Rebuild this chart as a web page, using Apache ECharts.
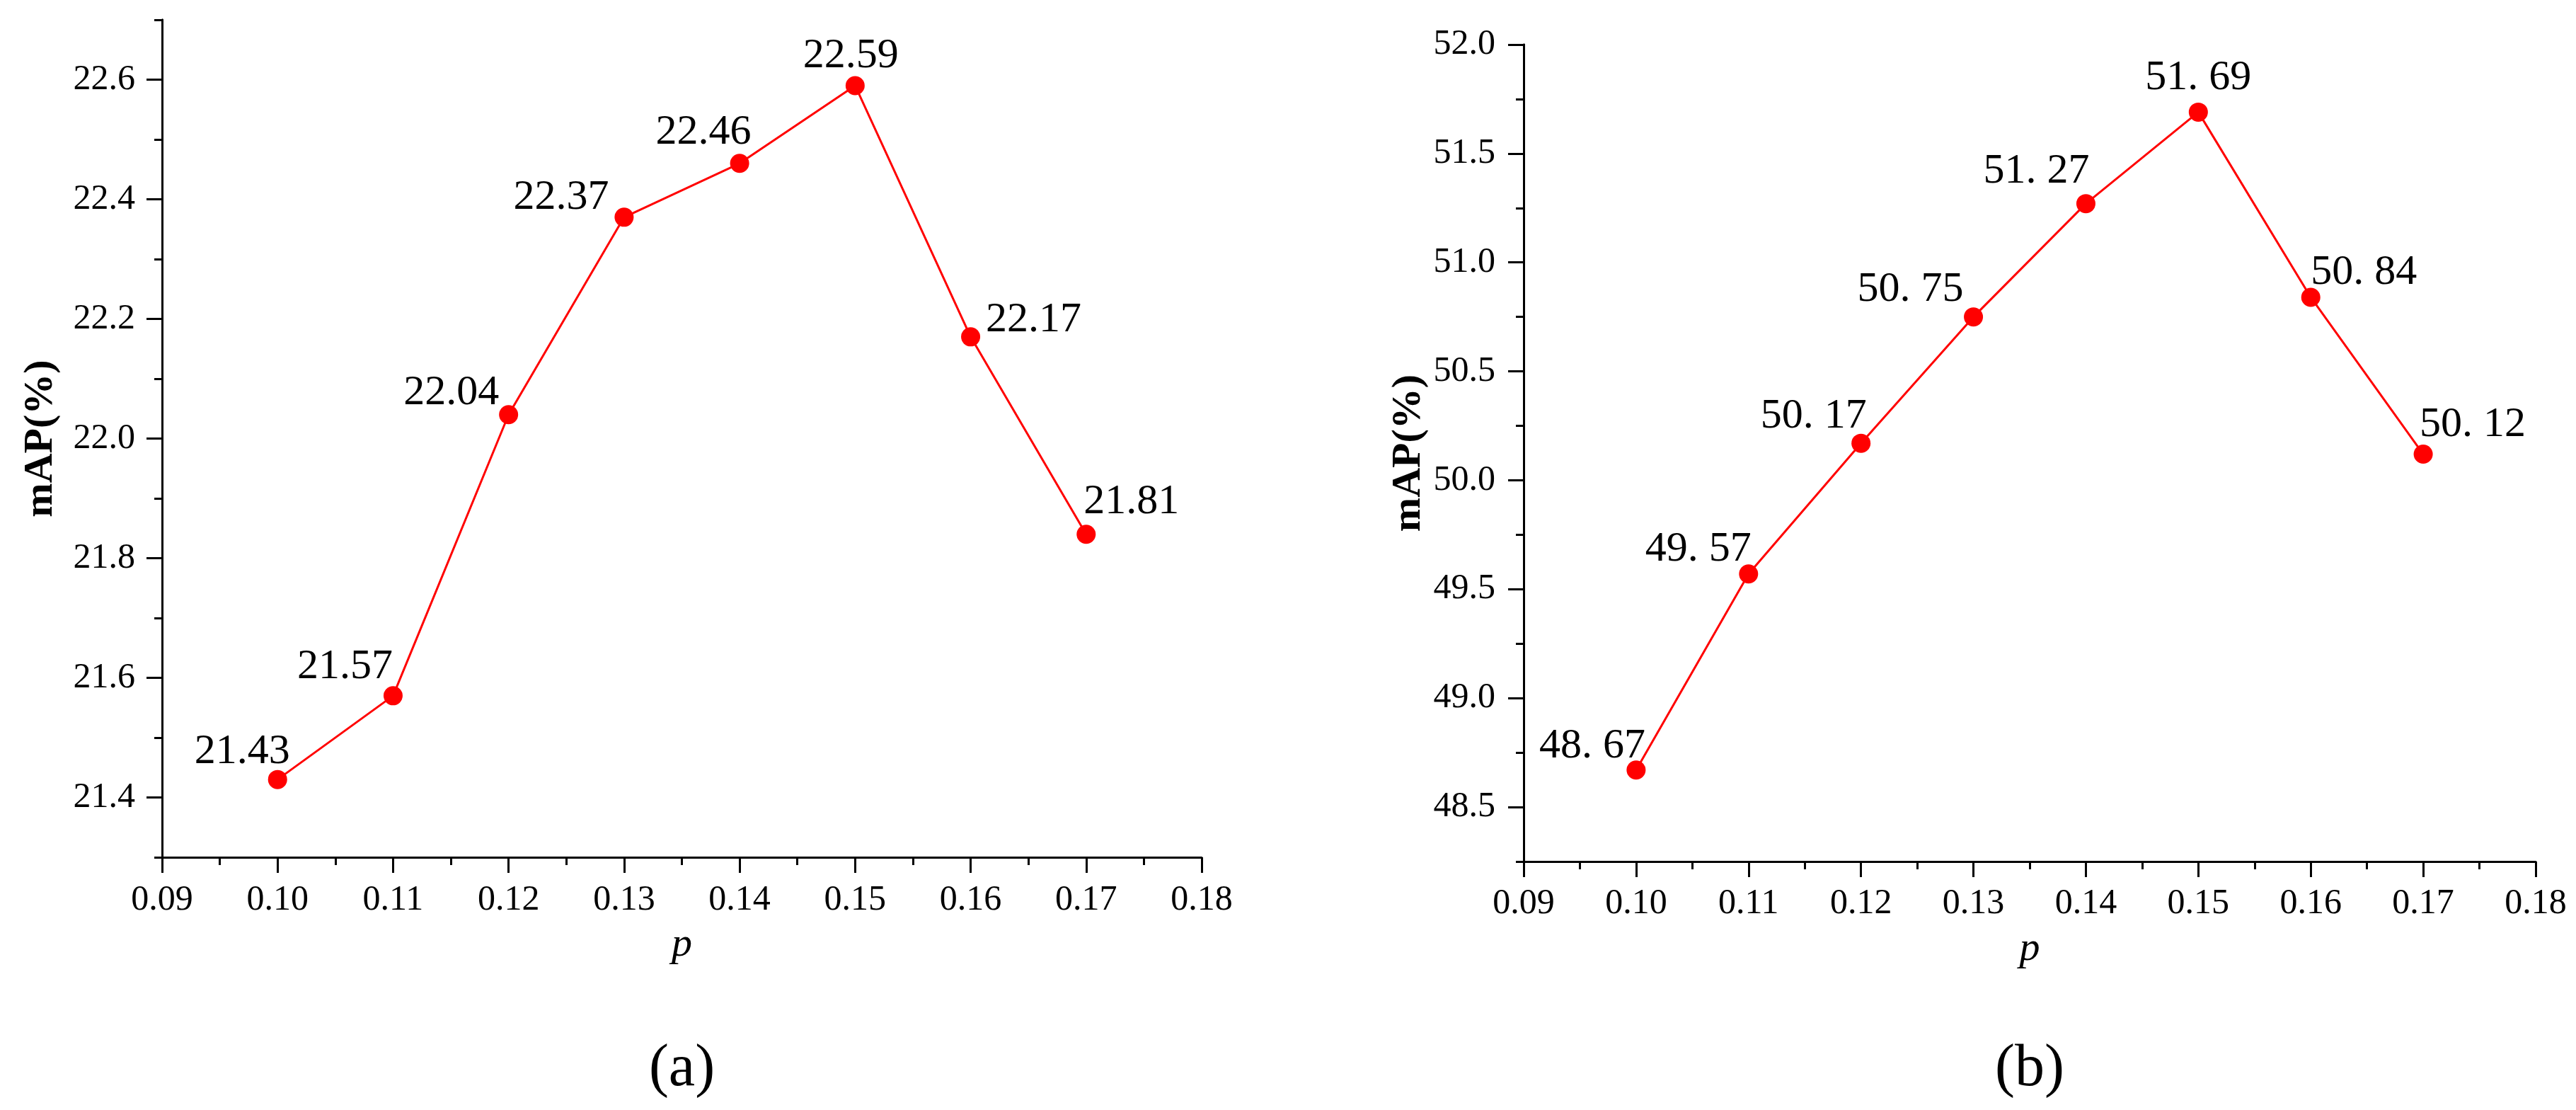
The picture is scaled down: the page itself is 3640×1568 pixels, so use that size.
<!DOCTYPE html>
<html>
<head>
<meta charset="utf-8">
<script src="https://cdn.jsdelivr.net/npm/echarts@6/dist/echarts.min.js"></script>
<style>
html,body{margin:0;padding:0;background:#fff;}
#main{width:3640px;height:1568px;}
</style>
</head>
<body>
<div id="main"></div>
<script>
// ---- data ----
const pValues = [0.10, 0.11, 0.12, 0.13, 0.14, 0.15, 0.16, 0.17];
const mapA = [21.43, 21.57, 22.04, 22.37, 22.46, 22.59, 22.17, 21.84];
const mapALabels = ['21.43', '21.57', '22.04', '22.37', '22.46', '22.59', '22.17', '21.81'];
const mapB = [48.67, 49.57, 50.17, 50.75, 51.27, 51.69, 50.84, 50.12];
const mapBLabels = ['48.67', '49.57', '50.17', '50.75', '51.27', '51.69', '50.84', '50.12'];
const xTickLabels = [0.09, 0.10, 0.11, 0.12, 0.13, 0.14, 0.15, 0.16, 0.17, 0.18];
const yTickLabelsA = [21.4, 21.6, 21.8, 22.0, 22.2, 22.4, 22.6];
const yTickLabelsB = [48.5, 49.0, 49.5, 50.0, 50.5, 51.0, 51.5, 52.0];
const panelTitles = ['(a)', '(b)'];
const xName = 'p';
const yName = 'mAP(%)';

// ---- layout / style (not data) ----
const labelOffsetA = [[-50,-39],[-68,-41],[-81,-30],[-89,-28],[-51,-44],[-6,-42],[89,-24],[64,-45]];
const labelOffsetB = [[-62,-34],[-71,-35],[-67,-38],[-89,-38],[-70,-45],[0,-48],[75,-35],[70,-41]];
const FONT = "Liberation Serif";
const BLACK = '#000';
const RED = '#ff0000';
const grids = [
  {left: 229, top: 28, width: 1469, height: 1183},
  {left: 2153, top: 63, width: 1430, height: 1154}
];

function xAxisFor(gi) {
  return {
    type: 'value', gridIndex: gi, min: 0.09, max: 0.18, interval: 0.01,
    name: xName, nameLocation: 'middle', nameGap: 95,
    nameTextStyle: {fontFamily: FONT, fontStyle: 'italic', fontSize: 58, color: BLACK},
    axisLine: {show: true, onZero: false, lineStyle: {color: BLACK, width: 3}},
    axisTick: {show: true, length: 22, lineStyle: {color: BLACK, width: 3}, customValues: xTickLabels},
    minorTick: {show: true, splitNumber: 2, length: 11, lineStyle: {color: BLACK, width: 3}},
    axisLabel: {show: true, customValues: xTickLabels, margin: gi === 0 ? 36 : 35,
      fontFamily: FONT, fontSize: 50, color: BLACK,
      formatter: v => Number(v).toFixed(2)},
    splitLine: {show: false}, minorSplitLine: {show: false}
  };
}

function yAxesFor(gi, min, max, minorInt, majors, nameGap, margin) {
  return [
    {
      type: 'value', gridIndex: gi, min: min, max: max, position: 'left',
      name: yName, nameLocation: 'middle', nameGap: nameGap,
      nameTextStyle: {fontFamily: FONT, fontWeight: 'bold', fontSize: 58, color: BLACK},
      axisLine: {show: true, onZero: false, lineStyle: {color: BLACK, width: 3}},
      axisTick: {show: true, length: 22, lineStyle: {color: BLACK, width: 3}, customValues: majors},
      axisLabel: {show: true, customValues: majors, margin: margin,
        fontFamily: FONT, fontSize: 50, color: BLACK,
        formatter: v => Number(v).toFixed(1)},
      splitLine: {show: false}
    },
    {
      type: 'value', gridIndex: gi, min: min, max: max, interval: minorInt, position: 'left',
      axisLine: {show: true, onZero: false, lineStyle: {color: BLACK, width: 3}},
      axisTick: {show: true, length: 11, lineStyle: {color: BLACK, width: 3}},
      axisLabel: {show: false},
      splitLine: {show: false}
    }
  ];
}

function seriesFor(gi, yIndex, values, labels, offsets, fmt) {
  return {
    type: 'line', xAxisIndex: gi, yAxisIndex: yIndex,
    symbol: 'circle', symbolSize: 27,
    itemStyle: {color: RED},
    lineStyle: {color: RED, width: 3},
    data: values.map((v, i) => ({value: [pValues[i], v], label: {offset: offsets[i]}})),
    label: {
      show: true, position: 'inside', align: 'center', verticalAlign: 'middle',
      fontFamily: FONT, fontSize: 60, color: BLACK,
      formatter: p => fmt(labels[p.dataIndex])
    },
    z: 3
  };
}

const chart = echarts.init(document.getElementById('main'));
const yA = yAxesFor(0, 21.3, 22.7, 0.1, yTickLabelsA, 142, 38);
const yB = yAxesFor(1, 48.25, 52.0, 0.25, yTickLabelsB, 133, 40);

chart.setOption({
  backgroundColor: '#fff',
  animation: false,
  title: [
    {text: panelTitles[0], left: grids[0].left + grids[0].width / 2, top: 1469, textAlign: 'center', padding: 0,
      textStyle: {fontFamily: FONT, fontWeight: 'normal', fontSize: 84, lineHeight: 84, color: BLACK}},
    {text: panelTitles[1], left: grids[1].left + grids[1].width / 2, top: 1469, textAlign: 'center', padding: 0,
      textStyle: {fontFamily: FONT, fontWeight: 'normal', fontSize: 84, lineHeight: 84, color: BLACK}}
  ],
  grid: grids.map(g => Object.assign({containLabel: false}, g)),
  xAxis: [xAxisFor(0), xAxisFor(1)],
  yAxis: [yA[0], yA[1], yB[0], yB[1]],
  series: [
    seriesFor(0, 0, mapA, mapALabels, labelOffsetA, s => s),
    seriesFor(1, 2, mapB, mapBLabels, labelOffsetB, s => s.replace('.', '. '))
  ]
});
</script>
</body>
</html>
